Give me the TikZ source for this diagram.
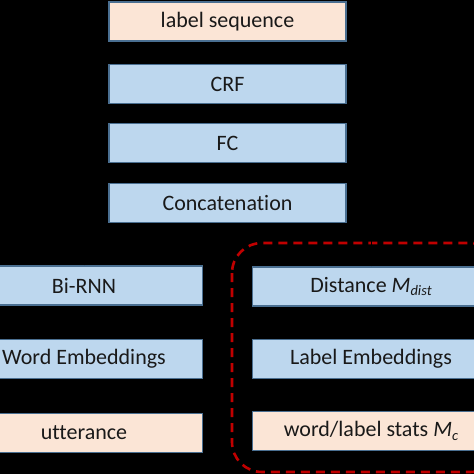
\documentclass[tikz,border=0pt]{standalone}
\usepackage{fontspec}
\setmainfont{Carlito}[Ligatures=NoCommon]
\newcommand{\subit}[1]{\raisebox{-0.35ex}{\fontsize{14.5}{14.5}\selectfont\textit{#1}}}
\begin{document}
\begin{tikzpicture}[x=1pt,y=-1pt,
  box/.style={draw=boxedge, line width=1.5pt, minimum width=237pt, minimum height=39pt,
    inner sep=0pt, font=\fontsize{22}{24}\selectfont, text=black!90},
  bluebox/.style={box, fill=boxblue},
  peachbox/.style={box, fill=boxpeach},
  conn/.style={draw=black, line width=0.8pt}]
\definecolor{boxblue}{HTML}{BDD7EE}
\definecolor{boxpeach}{HTML}{FBE5D6}
\definecolor{boxedge}{HTML}{4A6F91}
\definecolor{dashred}{HTML}{C00000}
\fill[black] (0,0) rectangle (474,474);
\useasboundingbox (0,0) rectangle (474,474);
% top column
\node[peachbox] (seq) at (227.5,21.5) {label sequence};
\node[bluebox] (crf) at (227.5,84) {CRF};
\node[bluebox] (fc) at (227.5,143) {FC};
\node[bluebox] (cat) at (227.5,203) {Concatenation};
% left column
\node[bluebox] (rnn) at (84,285.5) {Bi-RNN};
\node[bluebox] (we) at (84,359) {Word Embeddings};
\node[peachbox] (utt) at (84,433) {utterance};
% right column
\node[bluebox] (dist) at (371,286.5) {Distance \textit{M}\subit{dist}};
\node[bluebox] (le) at (371,359) {Label Embeddings};
\node[peachbox] (stats) at (371,431) {word/label stats \textit{M}\subit{c}};
% red dashed group
\draw[dashred, line width=2.6pt, dash pattern=on 9pt off 6pt, rounded corners=30pt]
  (232,243) rectangle (500,472);
% connectors (black on black)
\draw[conn] (seq.south) -- (crf.north);
\draw[conn] (crf.south) -- (fc.north);
\draw[conn] (fc.south) -- (cat.north);
\draw[conn] (utt.north) -- (we.south);
\draw[conn] (we.north) -- (rnn.south);
\draw[conn] (stats.north) -- (le.south);
\draw[conn] (le.north) -- (dist.south);
\draw[conn] (rnn.north) |- (cat.west);
\draw[conn] (dist.north) |- (cat.east);
\end{tikzpicture}
\end{document}
